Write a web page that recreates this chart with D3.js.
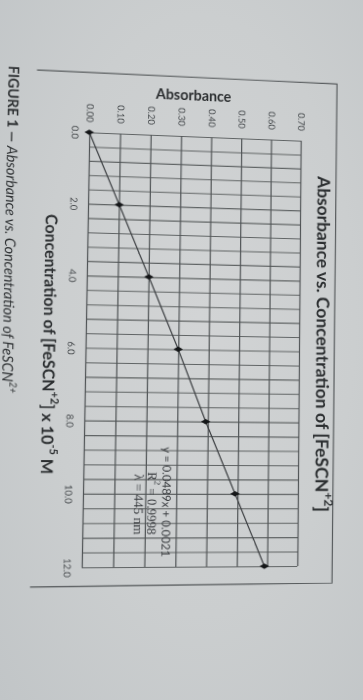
<!DOCTYPE html>
<html>
<head>
<meta charset="utf-8">
<script src="https://cdn.jsdelivr.net/npm/d3@7"></script>
<style>
  html, body { margin: 0; padding: 0; }
  body {
    width: 363px; height: 700px; overflow: hidden;
    background: radial-gradient(ellipse at 55% 45%, #d2d4d5 0%, #cbcecf 55%, #c1c5c7 100%);
  }
  svg { display: block; position: absolute; left: 0; top: 0; }
</style>
</head>
<body>
<svg></svg>
<script>
// data
const concentration = [0.0, 2.0, 4.0, 6.0, 8.0, 10.0, 12.0];   // x 10^-5 M
const absorbance = [0.000, 0.101, 0.201, 0.300, 0.393, 0.492, 0.591];
const absTicks = [0.00, 0.10, 0.20, 0.30, 0.40, 0.50, 0.60, 0.70];
const concTicks = [0.0, 2.0, 4.0, 6.0, 8.0, 10.0, 12.0];
const concMinor = d3.range(0, 12.0001, 0.4);
const fitLines = ["y = 0.0489x + 0.0021", "R2 = 0.9998", "λ = 445 nm"];

const W = 363, H = 700;

const svg = d3.select("svg")
    .attr("width", W)
    .attr("height", H);

// the chart is printed sideways: absorbance runs left->right, concentration top->bottom
const xAbs = d3.scaleLinear().domain([0, 0.7]).range([86, 299]);
const yConc = d3.scaleLinear().domain([0, 12]).range([134, 567]);

// the photo is taken at a slight angle: map the flat drawing onto the
// four plot corners measured in the photo (homography as a css matrix3d)
function homography(src, dst) {
    const A = [];
    src.forEach(([x, y], i) => {
        const [u, v] = dst[i];
        A.push([x, y, 1, 0, 0, 0, -u * x, -u * y, u]);
        A.push([0, 0, 0, x, y, 1, -v * x, -v * y, v]);
    });
    const n = 8;
    for (let c = 0; c < n; c++) {
        let p = c;
        for (let r = c + 1; r < n; r++) if (Math.abs(A[r][c]) > Math.abs(A[p][c])) p = r;
        [A[c], A[p]] = [A[p], A[c]];
        for (let r = 0; r < n; r++) {
            if (r === c) continue;
            const f = A[r][c] / A[c][c];
            for (let k = c; k <= n; k++) A[r][k] -= f * A[c][k];
        }
    }
    return A.map((row, i) => row[n] / row[i]);
}
const applyH = (h, [x, y]) => {
    const w = h[6] * x + h[7] * y + 1;
    return [(h[0] * x + h[1] * y + h[2]) / w, (h[3] * x + h[4] * y + h[5]) / w];
};

const corners = [[xAbs(0), yConc(0)], [xAbs(0.7), yConc(0)], [xAbs(0), yConc(12)], [xAbs(0.7), yConc(12)]];
const photo = [[89.3, 132.3], [300.7, 140.7], [81.7, 567.3], [297.3, 566]];
const h = homography(corners, photo);
const hInv = homography(photo, corners);

const g = svg.append("g");

//frame of the chart area (left side not visible in the photo), corners as seen on the page
const frame = [[37, 70], [337, 84], [332, 583], [30, 587]].map(p => applyH(hInv, p));
g.append("path")
    .attr("d", d3.line()(frame))
    .attr("fill", "none")
    .attr("stroke", "#55595b")
    .attr("stroke-width", 1.2);

//horizontal grid (concentration, every 0.4)
g.append("g")
    .attr("transform", `translate(${xAbs(0)},0)`)
    .call(d3.axisRight(yConc).tickValues(concMinor).tickSize(xAbs(0.7) - xAbs(0)).tickFormat(""))
    .call(a => a.select(".domain").remove())
    .call(a => a.selectAll("line").attr("stroke", "#606465").attr("stroke-width", 1.1));

//vertical grid (absorbance, every 0.10)
g.append("g")
    .attr("transform", `translate(0,${yConc(0)})`)
    .call(d3.axisBottom(xAbs).tickValues(absTicks).tickSize(yConc(12) - yConc(0)).tickFormat(""))
    .call(a => a.select(".domain").remove())
    .call(a => a.selectAll("line").attr("stroke", "#505456").attr("stroke-width", 1.2));

//absorbance tick labels (rotated like the rest of the page)
g.append("g")
    .attr("transform", `translate(0,${yConc(0)})`)
    .call(d3.axisTop(xAbs).tickValues(absTicks).tickFormat(d3.format(".2f")).tickSize(0))
    .call(a => a.select(".domain").remove())
    .call(a => a.selectAll("text")
        .attr("x", 0).attr("y", 0).attr("dy", "0.35em")
        .attr("text-anchor", "middle")
        .attr("transform", "translate(0,-19.5) rotate(90)")
        .attr("fill", "#43474a")
        .style("font", "9.5px Lato, 'Open Sans', sans-serif"));

//concentration tick labels
g.append("g")
    .attr("transform", `translate(${xAbs(0)},0)`)
    .call(d3.axisLeft(yConc).tickValues(concTicks).tickFormat(d3.format(".1f")).tickSize(0))
    .call(a => a.select(".domain").remove())
    .call(a => a.selectAll("text")
        .attr("x", 0).attr("y", 0).attr("dy", "0.35em")
        .attr("text-anchor", "middle")
        .attr("transform", "translate(-14,0) rotate(90)")
        .attr("fill", "#43474a")
        .style("font", "9.5px Lato, 'Open Sans', sans-serif"));

//data line + diamond markers
const pts = concentration.map((c, i) => [c, absorbance[i]]);
g.append("path")
    .datum(pts)
    .attr("fill", "none")
    .attr("stroke", "#3c3f42")
    .attr("stroke-width", 1.2)
    .attr("d", d3.line().x(d => xAbs(d[1])).y(d => yConc(d[0])));

g.selectAll(".pt")
    .data(pts)
    .enter()
    .append("path")
    .attr("class", "pt")
    .attr("transform", d => `translate(${xAbs(d[1])},${yConc(d[0])}) rotate(90)`)
    .attr("d", d3.symbol().type(d3.symbolDiamond).size(26))
    .attr("fill", "#141618");

// shrink/grow text so it spans the same length as in the photo
function fit(sel, target) {
    const fs = parseFloat(sel.attr("font-size"));
    const len = sel.node().getComputedTextLength();
    sel.attr("font-size", fs * target / len);
}

// text with a superscript part: parts = [[text, sup?], ...]
function richText(parent, parts) {
    let afterSup = false;
    parts.forEach(([t, sup]) => {
        const ts = parent.append("tspan").text(t);
        if (sup) ts.attr("font-size", "0.68em").attr("dy", "-0.75em");
        else if (afterSup) ts.attr("dy", "0.51em");
        afterSup = !!sup;
    });
}

//chart title
const title = g.append("text")
    .attr("transform", `translate(${xAbs(0.7) + 24},${yConc(5.75)}) rotate(90)`)
    .attr("text-anchor", "middle")
    .attr("dy", "0.35em")
    .attr("font-family", "Lato, 'Open Sans', sans-serif")
    .attr("font-weight", "bold")
    .attr("font-size", 14)
    .attr("fill", "#2b2e30");
richText(title, [["Absorbance  vs. Concentration of [FeSCN"], ["+2", true], ["]"]]);
fit(title, 343);

//y axis title (ends up horizontal on the page)
const yTitle = g.append("text")
    .attr("x", (xAbs(0) + xAbs(0.7)) / 2 - 3)
    .attr("y", yConc(0) - 37)
    .attr("text-anchor", "middle")
    .attr("font-family", "Lato, 'Open Sans', sans-serif")
    .attr("font-weight", "bold")
    .attr("font-size", 12)
    .attr("fill", "#2b2e30")
    .text("Absorbance");
fit(yTitle, 76);

//x axis title
const xTitle = g.append("text")
    .attr("transform", `translate(${xAbs(0) - 35.5},${yConc(5.9)}) rotate(90)`)
    .attr("text-anchor", "middle")
    .attr("dy", "0.35em")
    .attr("font-family", "Lato, 'Open Sans', sans-serif")
    .attr("font-weight", "bold")
    .attr("font-size", 13)
    .attr("fill", "#2b2e30");
richText(xTitle, [["Concentration of [FeSCN"], ["+2", true], ["]  x 10"], ["-5", true], [" M"]]);
fit(xTitle, 258);

//regression annotation
const ann = [xAbs(0.268), yConc(10.22)];
const a1 = g.append("text")
    .attr("transform", `translate(${ann[0]},${ann[1]}) rotate(90)`)
    .attr("text-anchor", "middle").attr("dy", "0.35em")
    .attr("font-family", "Lato, 'Open Sans', sans-serif")
    .attr("font-size", 10.5).attr("fill", "#3a3d40")
    .text(fitLines[0]);
fit(a1, 109);
const a2 = g.append("text")
    .attr("transform", `translate(${ann[0] - 14},${ann[1] + 1.5}) rotate(90)`)
    .attr("text-anchor", "middle").attr("dy", "0.35em")
    .attr("font-family", "'Liberation Serif', serif")
    .attr("font-size", 10.5).attr("fill", "#3a3d40");
richText(a2, [["R"], ["2", true], [" = 0.9998"]]);
fit(a2, 62);
const a3 = g.append("text")
    .attr("transform", `translate(${ann[0] - 27},${ann[1] + 2.5}) rotate(90)`)
    .attr("text-anchor", "middle").attr("dy", "0.35em")
    .attr("font-family", "'Liberation Serif', serif")
    .attr("font-size", 10.5).attr("fill", "#3a3d40")
    .text(fitLines[2]);
fit(a3, 60);

//figure caption
const cap = g.append("text")
    .attr("transform", `translate(11,70) rotate(90)`)
    .attr("dy", "0.35em")
    .attr("font-family", "Lato, 'Open Sans', sans-serif")
    .attr("font-size", 12.5)
    .attr("fill", "#2e3133");
cap.append("tspan").attr("font-weight", "bold").text("FIGURE 1 — ");
cap.append("tspan").attr("font-style", "italic").text("Absorbance vs. Concentration of FeSCN");
cap.append("tspan").attr("font-style", "italic").attr("font-size", "0.68em").attr("dy", "-0.75em").text("2+");
fit(cap, 327);

svg.style("transform-origin", "0 0")
    .style("transform", `matrix3d(${h[0]},${h[3]},0,${h[6]},${h[1]},${h[4]},0,${h[7]},0,0,1,0,${h[2]},${h[5]},0,1)`);
</script>
</body>
</html>
